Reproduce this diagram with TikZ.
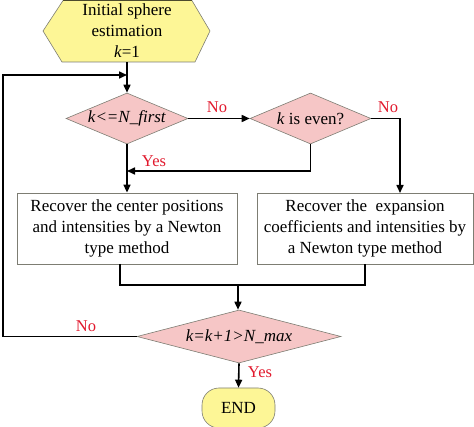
\documentclass[tikz,border=0pt]{standalone}
\usepackage{fontspec}
\setmainfont{Liberation Serif}
\usetikzlibrary{shapes.geometric,arrows.meta}
\definecolor{hexfill}{RGB}{253,246,150}
\definecolor{pinkfill}{RGB}{246,198,198}
\definecolor{edgegray}{RGB}{125,125,115}
\definecolor{lblred}{RGB}{225,25,45}
\tikzset{
  txt/.style={font=\fontsize{17}{21}\selectfont, align=center},
  decision/.style={diamond, draw=edgegray, line width=0.6pt, fill=pinkfill, inner sep=0pt, txt},
  procbox/.style={rectangle, draw=edgegray, line width=0.8pt, fill=white, inner sep=2pt, txt},
  conn/.style={line width=1.6pt, black},
  arr/.style={conn, -{Triangle[length=8pt,width=7pt]}},
  lbl/.style={text=lblred, font=\fontsize{16.5}{20}\selectfont, anchor=base, inner sep=0pt},
}
\begin{document}
\begin{tikzpicture}[x=1pt,y=-1pt]
\useasboundingbox (0,0) rectangle (474,427);
% start hexagon
\filldraw[fill=hexfill, draw=edgegray, line width=0.6pt]
  (63,0.6) -- (192,0.6) -- (210,31) -- (195,62) -- (62,62) -- (43,31) -- cycle;
\draw[line width=1.2pt, draw=black!70!hexfill] (63,0.6) -- (192,0.6);
\node[txt, minimum height=62pt, inner sep=0pt] (hex) at (127,31)
  {Initial sphere\\estimation\\\textit{k}=1};
% decisions
\node[decision, aspect=2.4, minimum width=122pt, minimum height=51pt] (d1) at (127,118.5) {\textit{k<=N\_first}};
\node[decision, aspect=2.4, minimum width=121pt, minimum height=51pt] (d2) at (310.5,118.5) {\textit{k} is even?};
\node[decision, aspect=3.85, minimum width=204pt, minimum height=53pt] (d3) at (239,336.5) {\textit{k=k+1>N\_max}};
% process boxes
\node[procbox, minimum width=220pt, minimum height=71pt] (b1) at (127,228.5)
  {Recover the center positions\\and intensities by a Newton\\type method};
\node[procbox, minimum width=216pt, minimum height=71pt] (b2) at (365,228.5)
  {Recover the\ \ expansion\\coefficients and intensities by\\a Newton type method};
% end terminal
\node[draw=edgegray, line width=0.6pt, fill=hexfill, rounded corners=17pt,
  minimum width=73pt, minimum height=40pt, txt] (end) at (238.5,408) {END};
% helper coordinates
\coordinate (m1) at (127,75);
\coordinate (lc) at (3,75);
\coordinate (m2) at (127,171);
\coordinate (b2in) at (400,193);
\coordinate (b1out) at (120,264);
\coordinate (j) at (238,285);
% connectors
\draw[arr] (hex.south) -- (d1.north);
\draw[arr] (d3.west) -| (lc) -- (m1);
\draw[arr] (d1.east) -- (d2.west);
\draw[arr] (d2.east) -| (b2in);
\draw[arr] (d2.south) |- (m2);
\draw[arr] (d1.south) -- (b1.north);
\draw[conn] (b1out) |- (j) -| (b2.south);
\draw[arr] (j) -- (j |- d3.north);
\draw[arr] (d3.south) -- (end.north);
% labels
\node[lbl] (lno1) at (217,113) {No};
\node[lbl] (lno2) at (388,113) {No};
\node[lbl] (lyes1) at (154,167) {Yes};
\node[lbl] (lno3) at (86,332) {No};
\node[lbl] (lyes2) at (260,378) {Yes};
\end{tikzpicture}
\end{document}
